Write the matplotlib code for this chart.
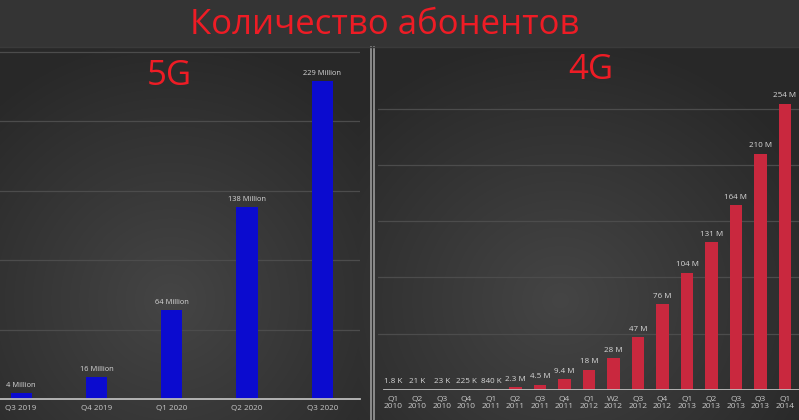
import numpy as np
import matplotlib
matplotlib.use("Agg")
import matplotlib.pyplot as plt

# ---- data ----
cats_5g = ["Q3 2019", "Q4 2019", "Q1 2020", "Q2 2020", "Q3 2020"]
vals_5g = [4, 16, 64, 138, 229]
labels_5g = ["4 Million", "16 Million", "64 Million", "138 Million", "229 Million"]

cats_4g = ["Q1\n2010", "Q2\n2010", "Q3\n2010", "Q4\n2010", "Q1\n2011", "Q2\n2011",
           "Q3\n2011", "Q4\n2011", "Q1\n2012", "W2\n2012", "Q3\n2012", "Q4\n2012",
           "Q1\n2013", "Q2\n2013", "Q3\n2013", "Q3\n2013", "Q1\n2014"]
vals_4g = [0.0018, 0.021, 0.023, 0.225, 0.84, 2.3, 4.5, 9.4, 18, 28, 47, 76,
           104, 131, 164, 210, 254]
labels_4g = ["1.8 K", "21 K", "23 K", "225 K", "840 K", "2.3 M", "4.5 M", "9.4 M",
             "18 M", "28 M", "47 M", "76 M", "104 M", "131 M", "164 M", "210 M", "254 M"]

title = "Количество абонентов"
W, H = 799, 420
DPI = 100
fig = plt.figure(figsize=(W / DPI, H / DPI), dpi=DPI)
fig.patch.set_facecolor("#2c2c2c")

def px(x0, y0, x1, y1):
    # pixel box (top-left origin) -> figure fraction rect
    return [x0 / W, 1 - y1 / H, (x1 - x0) / W, (y1 - y0) / H]

# background gradient
bg = fig.add_axes([0, 0, 1, 1], zorder=-10)
yy, xx = np.mgrid[0:H, 0:W]
d1 = np.sqrt(((xx - 170) / 260.0) ** 2 + ((yy - 300) / 260.0) ** 2)
d2 = np.sqrt(((xx - 560) / 280.0) ** 2 + ((yy - 300) / 260.0) ** 2)
g = np.maximum(np.clip(1 - d1, 0, 1), np.clip(1 - d2, 0, 1))
img = 0.16 + 0.11 * g
img[:47, :] = 0.205
rgb = np.dstack([img, img, img])
bg.imshow(rgb, extent=[0, W, H, 0], aspect="auto", interpolation="bilinear")
bg.set_xlim(0, W)
bg.set_ylim(H, 0)
bg.axis("off")
# divider lines
for xd in (370.5, 374):
    bg.plot([xd, xd], [47, H], color="#9a9a9a", lw=1.2)
bg.plot([0, W], [47, 47], color="#3a3a3a", lw=1)

font = "Open Sans"
lab_col = "#d8d8d8"

# ---- 5G axes ----
ax1 = fig.add_axes(px(0, 47, 360, 399))
ax1.patch.set_alpha(0)
x1 = np.arange(len(cats_5g))
scale1 = 318 / 229.0
ax1.set_ylim(0, 352 / scale1)
ax1.set_xlim(-0.28, -0.28 + 360 / 75.3)
ax1.bar(x1, vals_5g, width=0.28, color="#0b0bcf", zorder=3)
for xi, v, t in zip(x1, vals_5g, labels_5g):
    ax1.text(xi, v + 3, t, ha="center", va="bottom", fontsize=5.4, color=lab_col, family=font)
ax1.set_yticks([50, 100, 150, 200, 250])
ax1.grid(axis="y", color="#4c4c4c", lw=0.9, zorder=0)
ax1.tick_params(axis="y", length=0, labelleft=False)
ax1.set_xticks(x1)
ax1.set_xticklabels(cats_5g, fontsize=5.8, color="#c8c8c8", family=font)
ax1.tick_params(axis="x", length=0, pad=4)
for s in ("top", "right", "left"):
    ax1.spines[s].set_visible(False)
ax1.spines["bottom"].set_color("#bdbdbd")
ax1.spines["bottom"].set_linewidth(1.3)
ax1.spines["bottom"].set_zorder(4)

# ---- 4G axes ----
ax2 = fig.add_axes(px(378, 47, 799, 390))
ax2.patch.set_alpha(0)
x2 = np.arange(len(cats_4g))
scale2 = 286 / 254.0
ax2.set_ylim(0, 343 / scale2)
xl = (378 - 393) / 24.5
ax2.set_xlim(xl, xl + 421 / 24.5)
ax2.bar(x2, vals_4g, width=0.5, color="#c9283e", zorder=3)
for xi, v, t in zip(x2, vals_4g, labels_4g):
    ax2.text(xi, v + 4, t, ha="center", va="bottom", fontsize=5.8, color=lab_col, family=font)
ax2.set_yticks([50, 100, 150, 200, 250])
ax2.grid(axis="y", color="#4c4c4c", lw=0.9, zorder=0)
ax2.tick_params(axis="y", length=0, labelleft=False)
ax2.set_xticks(x2)
ax2.set_xticklabels(cats_4g, fontsize=6.0, color="#c8c8c8", family=font, linespacing=1.0)
ax2.tick_params(axis="x", length=0, pad=4)
for s in ("top", "right", "left", "bottom"):
    ax2.spines[s].set_visible(False)
ax2.axhline(0, xmin=(384 - 378) / 421, xmax=1, color="#bdbdbd", lw=1.3, zorder=4)

# ---- titles ----
fig.text(385 / W, 1 - 24.5 / H, title, ha="center", va="center", fontsize=25,
         color="#ee1c25", family=font)
fig.text(169 / W, 1 - 76 / H, "5G", ha="center", va="center", fontsize=25,
         color="#ee1c25", family=font)
fig.text(591 / W, 1 - 70 / H, "4G", ha="center", va="center", fontsize=25,
         color="#ee1c25", family=font)

fig.savefig("out.png", dpi=DPI, facecolor=fig.get_facecolor())
